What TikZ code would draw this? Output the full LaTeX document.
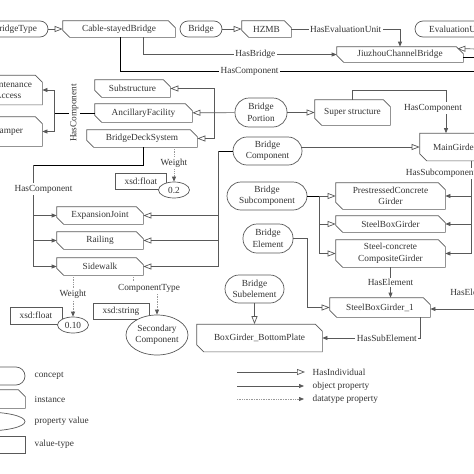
\documentclass[tikz,border=0pt]{standalone}
\usepackage{fontspec}
\setmainfont{Liberation Serif}
\usetikzlibrary{shapes.geometric,arrows.meta}
\definecolor{linec}{gray}{0.35}
\definecolor{textc}{gray}{0.2}
\tikzset{
  concept/.style={rectangle, rounded corners=#1, draw=linec, fill=white, inner sep=0pt, align=center},
  concept/.default=8pt,
  inst/.style={rectangle, inner sep=0pt, align=center},
  pval/.style={ellipse, draw=linec, fill=white, inner sep=0pt, align=center},
  vtype/.style={rectangle, draw=linec, fill=white, inner sep=0pt},
  lbl/.style={fill=white, inner sep=1.5pt},
  hasind/.style={draw=linec, -{Triangle[open, length=8pt, width=6pt]}},
  objp/.style={draw=linec, -{Triangle[length=5pt, width=4pt]}},
  datp/.style={draw=black!40, densely dotted, -{Triangle[length=5pt, width=4pt, color=linec]}}
}
% outline of an instance: top right and bottom left corners cut
\newcommand{\instshape}[1]{%
  \draw[linec] (#1.north west) -- ([xshift=-7pt]#1.north east) -- ([yshift=-7pt]#1.north east)
    -- (#1.south east) -- ([xshift=7pt]#1.south west) -- ([yshift=7pt]#1.south west) -- cycle;}
\begin{document}
\begin{tikzpicture}[x=1pt, y=-1pt, font=\fontsize{9.3}{11.5}\selectfont, text=textc, line width=0.7pt]
  \useasboundingbox (0,0) rectangle (474,474);
  \clip (0,0) rectangle (474,474);

  % concepts
  \node[concept, minimum width=66pt, minimum height=16pt] (btype) at (15,29) {BridgeType};
  \node[concept, minimum width=42pt, minimum height=16pt] (bridge) at (201,29) {Bridge};
  \node[concept, minimum width=85pt, minimum height=16pt] (evalu) at (457.5,29) {EvaluationUnit};
  \node[concept=14pt, minimum width=52pt, minimum height=29pt] (portion) at (261,112.5) {Bridge\\Portion};
  \node[concept=14pt, minimum width=69pt, minimum height=28pt] (comp) at (267.5,151) {Bridge\\Component};
  \node[concept=14pt, minimum width=80pt, minimum height=28pt] (subc) at (267,196) {Bridge\\Subcomponent};
  \node[concept=14pt, minimum width=50pt, minimum height=29pt] (elem) at (268,238.5) {Bridge\\Element};
  \node[concept=14pt, minimum width=59pt, minimum height=28pt] (subel) at (254.5,289) {Bridge\\Subelement};

  % instances
  \node[inst, minimum width=112pt, minimum height=16pt] (csb) at (119,29) {Cable-stayedBridge};
  \node[inst, minimum width=49pt, minimum height=16pt] (hzmb) at (266.5,29) {HZMB};
  \node[inst, minimum width=126pt, minimum height=15pt] (jcb) at (400,54.5) {JiuzhouChannelBridge};
  \node[inst, minimum width=68pt, minimum height=29pt] (maint) at (8,90) {Maintenance\\Access};
  \node[inst, minimum width=68pt, minimum height=29pt] (damper) at (8,131.5) {Damper};
  \node[inst, minimum width=75pt, minimum height=17pt] (sub) at (132.5,88.5) {Substructure};
  \node[inst, minimum width=97pt, minimum height=18pt] (anc) at (143.5,113) {AncillaryFacility};
  \node[inst, minimum width=110pt, minimum height=17pt] (bds) at (142,138.5) {BridgeDeckSystem};
  \node[inst, minimum width=75pt, minimum height=25pt] (sup) at (352.5,112.5) {Super structure};
  \node[inst, minimum width=70pt, minimum height=27pt] (mg) at (455,147) {MainGirder};
  \node[inst, minimum width=86pt, minimum height=17pt] (exp) at (100,215.5) {ExpansionJoint};
  \node[inst, minimum width=86pt, minimum height=17pt] (rail) at (100,240.5) {Railing};
  \node[inst, minimum width=86pt, minimum height=17pt] (side) at (100,266.5) {Sidewalk};
  \node[inst, minimum width=109pt, minimum height=26pt] (psc) at (390.5,196) {PrestressedConcrete\\Girder};
  \node[inst, minimum width=109pt, minimum height=16pt] (sbg) at (390.5,224) {SteelBoxGirder};
  \node[inst, minimum width=109pt, minimum height=27pt] (scc) at (390.5,253.5) {Steel-concrete\\CompositeGirder};
  \node[inst, minimum width=100pt, minimum height=19pt] (sbg1) at (380,307.5) {SteelBoxGirder\_1};
  \node[inst, minimum width=125pt, minimum height=27pt] (bgbp) at (259.5,338) {BoxGirder\_BottomPlate};
  \foreach \n in {csb,hzmb,jcb,maint,damper,sub,anc,bds,sup,mg,exp,rail,side,psc,sbg,scc,sbg1,bgbp}
    {\instshape{\n}}

  % value types and property values
  \node[vtype, minimum width=51pt, minimum height=16pt] (vt1) at (141,181) {xsd:float};
  \node[pval, minimum width=31pt, minimum height=16pt] (w02) at (174,190) {0.2};
  \node[vtype, minimum width=52pt, minimum height=17pt] (vt2) at (36,315.5) {xsd:float};
  \node[pval, minimum width=31pt, minimum height=16pt] (w010) at (73,325) {0.10};
  \node[vtype, minimum width=56pt, minimum height=16pt] (vt3) at (121,311) {xsd:string};
  \node[pval, minimum width=62pt, minimum height=40pt] (sec) at (157,335) {Secondary\\Component};

  % free ends and bends
  \coordinate (e1) at (480,71);
  \coordinate (e2) at (480,49);
  \coordinate (e3) at (480,57);
  \coordinate (e4) at (480,309);
  \coordinate (j1) at (54,113);
  \coordinate (j2) at (214,113);
  \coordinate (j3) at (218,151);
  \coordinate (j4) at (33,165);
  \coordinate (j5) at (157,288);
  \coordinate (j6) at (319,196);
  \coordinate (j7) at (471,160.5);
  \coordinate (c1) at (446,90);

  % top rows
  \draw[hasind] (btype) -- (csb);
  \draw[hasind] (bridge) -- (hzmb);
  \draw[objp] (hzmb) -- node[lbl]{HasEvaluationUnit} (hzmb -| jcb) -- (jcb);
  \draw[objp] ([xshift=24pt]csb.south) |- node[lbl, pos=0.79]{HasBridge} (jcb);
  \draw ([xshift=1pt]csb.south) |- node[lbl, pos=0.68]{HasComponent} (e1);
  \draw[hasind] (e2) -- ([xshift=-6pt,yshift=-2pt]jcb.north east);
  \draw ([yshift=-2.5pt]jcb.east) -- (e3);

  % bridge portion
  \draw[hasind] (portion) -- (anc);
  \draw[hasind] (j2) |- (sub);
  \draw[hasind] (j2) |- (bds);
  \draw[hasind] (portion) -- (sup);
  \draw (anc.west) -- node[lbl, rotate=90]{HasComponent} (j1);
  \draw[objp] (j1) |- (maint);
  \draw[objp] (j1) |- (damper);
  \draw[objp] (sup) |- (c1) -- ([xshift=-9pt]mg.north);
  \node[lbl] (hc2) at (433,108) {HasComponent};

  % bridge component
  \draw[hasind] ([yshift=4pt]comp.east) -- (mg.west);
  \draw (comp.west) -- (j3);
  \foreach \n in {exp,rail,side}
    \draw[hasind] (j3) |- (\n);
  \draw ([xshift=1pt]bds.south) |- (j4);
  \foreach \n in {exp,rail,side}
    \draw[objp] (j4) |- (\n);
  \node[lbl] (hc3) at (43.5,189) {HasComponent};

  % datatype properties
  \draw[datp] ([xshift=32pt]bds.south) -- node[lbl, pos=0.45]{Weight} (w02);
  \draw[datp] ([xshift=-27pt]side.south) -- node[lbl, pos=0.45]{Weight} (w010);
  \draw[datp] ([xshift=33pt]side.south) |- (j5) -- (sec);
  \node[lbl] (ct) at (149,288) {ComponentType};

  % subcomponents and elements
  \draw (subc) -- (j6);
  \draw[hasind] (j6) -- (psc);
  \draw[hasind] (j6) |- (sbg);
  \draw[hasind] (j6) |- (scc);
  \foreach \n in {psc,sbg,scc}
    \draw[objp] (j7) |- (\n);
  \node[lbl] (hsc) at (441,173.5) {HasSubcomponent};
  \draw[hasind] (elem.east) -- ++(14,0) |- (sbg1);
  \draw[objp] (scc.south) -- node[lbl]{HasElement} (scc.south |- sbg1.north);
  \draw[objp] (e4) -- (e4 -| sbg1.east);
  \node[lbl] (he2) at (473,292) {HasElement};
  \draw[objp] ([xshift=40pt]sbg1.south) |- node[lbl, pos=0.67]{HasSubElement} (bgbp);
  \draw[hasind] (subel) -- (subel |- bgbp.north);

  % legend
  \node[concept=9pt, minimum width=50pt, minimum height=18pt] (lgc) at (0,376) {};
  \node[inst, minimum width=50pt, minimum height=18pt] (lgi) at (0,399) {};
  \instshape{lgi}
  \node[pval, minimum width=80pt, minimum height=19pt] (lgp) at (-15,421.5) {};
  \node[vtype, minimum width=50pt, minimum height=17pt] (lgv) at (0,444.5) {};
  \node[anchor=west] (tc) at (31,376) {concept};
  \node[anchor=west] (ti) at (31,399) {instance};
  \node[anchor=west] (tp) at (31,421.5) {property value};
  \node[anchor=west] (tv) at (31,444.5) {value-type};

  \coordinate (la1) at (237,372);
  \coordinate (la2) at (305,372);
  \coordinate (lb1) at (237,386);
  \coordinate (lb2) at (304,386);
  \coordinate (lc1) at (237,399);
  \coordinate (lc2) at (304,399);
  \draw[hasind] (la1) -- (la2);
  \draw[objp] (lb1) -- (lb2);
  \draw[datp] (lc1) -- (lc2);
  \node[anchor=west] (ta) at (309,372) {HasIndividual};
  \node[anchor=west] (tb) at (309,386) {object property};
  \node[anchor=west] (td) at (309,399) {datatype property};
\end{tikzpicture}
\end{document}
